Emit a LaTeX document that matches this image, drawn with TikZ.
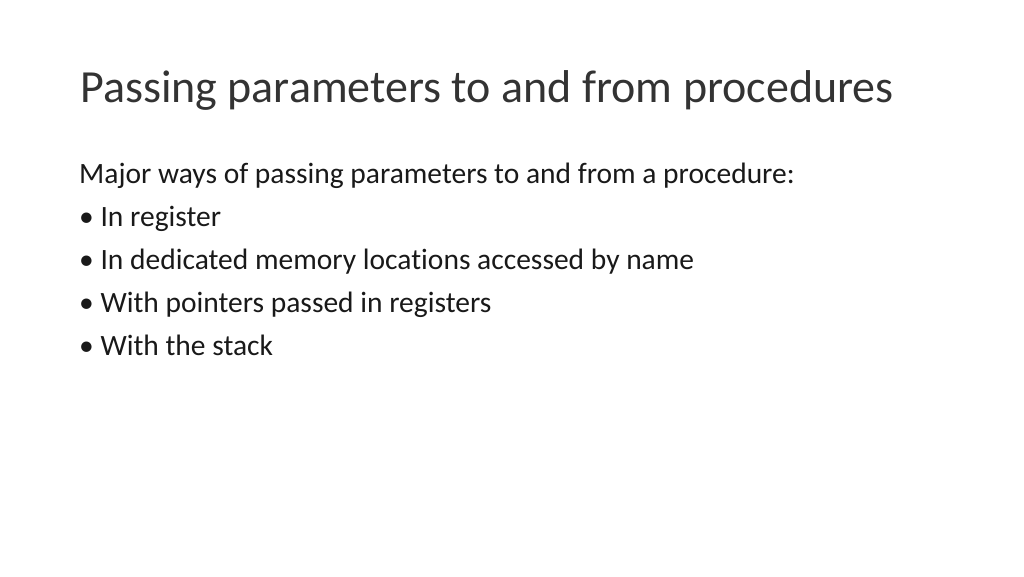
\documentclass[tikz,border=0pt]{standalone}
\usepackage{fontspec}
\setmainfont[Ligatures=NoCommon]{Carlito}
\begin{document}
\begin{tikzpicture}[x=1pt,y=-1pt,
  title/.style={anchor=base west,inner sep=0pt,font=\fontsize{46}{52}\selectfont,text=black!80},
  body/.style={anchor=base west,inner sep=0pt,font=\fontsize{29.5}{34}\selectfont,text=black!90}]
\useasboundingbox (0,0) rectangle (1024,576);
\node[title] (t) at (80,102) {Passing parameters to and from procedures};
\node[body] (l0) at (79,183) {Major ways of passing parameters to and from a procedure:};
\node[body] (l1) at (79,226) {\textbullet\ In register};
\node[body] (l2) at (79,269) {\textbullet\ In dedicated memory locations accessed by name};
\node[body] (l3) at (79,312) {\textbullet\ With pointers passed in registers};
\node[body] (l4) at (79,355) {\textbullet\ With the stack};
\end{tikzpicture}
\end{document}
